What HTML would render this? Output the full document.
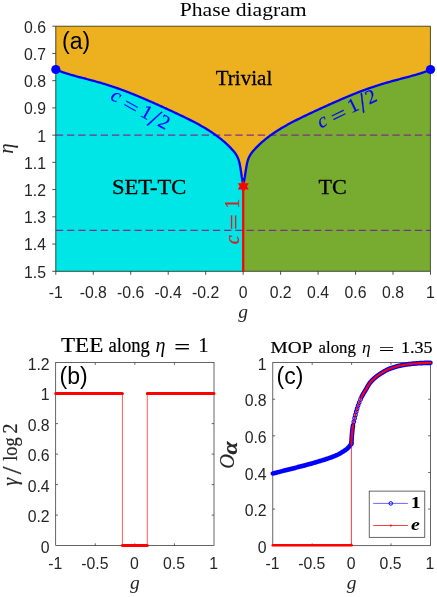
<!DOCTYPE html>
<html><head><meta charset="utf-8"><title>Phase diagram</title>
<style>html,body{margin:0;padding:0;background:#fff}svg{display:block}text{white-space:pre}</style></head><body>
<svg width="437" height="597" viewBox="0 0 437 597">
<rect width="437" height="597" fill="#fff"/>
<rect x="55.8" y="26.2" width="374.7" height="245.10000000000002" fill="#77AC30"/>
<path d="M55.80,69.49 L56.79,69.91 L57.78,70.32 L58.77,70.72 L59.77,71.11 L60.77,71.49 L61.78,71.86 L62.79,72.22 L63.80,72.57 L64.81,72.91 L65.83,73.24 L66.85,73.57 L67.88,73.89 L68.90,74.20 L69.93,74.51 L70.95,74.81 L71.98,75.11 L73.01,75.40 L74.05,75.69 L75.08,75.98 L76.11,76.26 L77.15,76.54 L78.18,76.81 L79.22,77.09 L80.25,77.36 L81.29,77.64 L82.32,77.91 L83.36,78.18 L84.40,78.45 L85.43,78.72 L86.47,78.99 L87.51,79.26 L88.54,79.54 L89.58,79.81 L90.61,80.09 L91.65,80.36 L92.68,80.64 L93.72,80.92 L94.75,81.21 L95.78,81.49 L96.82,81.78 L97.85,82.07 L98.88,82.36 L99.91,82.66 L100.94,82.96 L101.96,83.26 L102.99,83.57 L104.02,83.87 L105.04,84.19 L106.06,84.50 L107.09,84.82 L108.11,85.14 L109.13,85.47 L110.15,85.80 L111.17,86.13 L112.19,86.47 L113.20,86.81 L114.22,87.15 L115.23,87.49 L116.24,87.84 L117.25,88.20 L118.27,88.55 L119.27,88.91 L120.28,89.28 L121.29,89.64 L122.29,90.01 L123.30,90.38 L124.30,90.76 L125.30,91.14 L126.31,91.52 L127.31,91.90 L128.31,92.29 L129.30,92.68 L130.30,93.07 L131.30,93.47 L132.29,93.87 L133.28,94.27 L134.28,94.67 L135.27,95.07 L136.26,95.48 L137.25,95.89 L138.24,96.30 L139.23,96.71 L140.22,97.13 L141.20,97.54 L142.19,97.96 L143.18,98.38 L144.16,98.81 L145.14,99.23 L146.13,99.65 L147.11,100.08 L148.09,100.51 L149.07,100.94 L150.05,101.37 L151.04,101.80 L152.02,102.23 L152.99,102.67 L153.97,103.10 L154.95,103.54 L155.93,103.98 L156.91,104.41 L157.89,104.85 L158.86,105.29 L159.84,105.73 L160.82,106.17 L161.79,106.62 L162.77,107.06 L163.74,107.50 L164.72,107.95 L165.69,108.39 L166.66,108.84 L167.64,109.29 L168.61,109.73 L169.58,110.18 L170.56,110.63 L171.53,111.08 L172.50,111.53 L173.47,111.99 L174.44,112.44 L175.41,112.89 L176.38,113.35 L177.35,113.80 L178.32,114.26 L179.29,114.72 L180.26,115.18 L181.22,115.64 L182.19,116.11 L183.15,116.57 L184.12,117.04 L185.08,117.51 L186.05,117.98 L187.01,118.45 L187.97,118.93 L188.93,119.40 L189.88,119.88 L190.84,120.37 L191.79,120.85 L192.75,121.34 L193.70,121.83 L194.65,122.33 L195.60,122.83 L196.54,123.33 L197.49,123.84 L198.43,124.35 L199.37,124.86 L200.31,125.38 L201.24,125.91 L202.17,126.43 L203.10,126.97 L204.03,127.51 L204.95,128.05 L205.87,128.60 L206.79,129.16 L207.70,129.72 L208.61,130.29 L209.51,130.86 L210.41,131.44 L211.31,132.03 L212.20,132.62 L213.09,133.23 L213.97,133.83 L214.84,134.45 L215.72,135.07 L216.58,135.70 L217.44,136.34 L218.30,136.98 L219.15,137.64 L219.99,138.30 L220.83,138.96 L221.66,139.64 L222.49,140.32 L223.31,141.02 L224.12,141.71 L224.93,142.42 L225.73,143.13 L226.51,143.86 L227.29,144.59 L228.06,145.34 L228.83,146.09 L229.59,146.85 L230.34,147.61 L231.08,148.39 L231.81,149.17 L232.52,149.97 L233.23,150.78 L233.93,151.59 L234.60,152.43 L235.24,153.29 L235.84,154.17 L236.42,155.07 L236.96,156.01 L237.45,156.96 L237.88,157.93 L238.28,158.93 L238.63,159.95 L238.95,160.97 L239.23,162.00 L239.47,163.05 L239.70,164.10 L239.91,165.15 L240.11,166.20 L240.29,167.25 L240.47,168.31 L240.64,169.37 L240.81,170.43 L240.98,171.48 L241.14,172.54 L241.30,173.60 L241.44,174.67 L241.60,175.73 L241.76,176.78 L241.96,177.84 L242.16,178.89 L242.35,179.94 L242.54,181.00 L242.72,182.05 L242.89,183.11 L243.04,184.17 L243.18,185.24 L243.30,186.30 L243.30,271.30 L55.80,271.30Z" fill="#00E6E6"/>
<path d="M55.80,26.20 L55.80,69.49 L56.79,69.91 L57.78,70.32 L58.77,70.72 L59.77,71.11 L60.77,71.49 L61.78,71.86 L62.79,72.22 L63.80,72.57 L64.81,72.91 L65.83,73.24 L66.85,73.57 L67.88,73.89 L68.90,74.20 L69.93,74.51 L70.95,74.81 L71.98,75.11 L73.01,75.40 L74.05,75.69 L75.08,75.98 L76.11,76.26 L77.15,76.54 L78.18,76.81 L79.22,77.09 L80.25,77.36 L81.29,77.64 L82.32,77.91 L83.36,78.18 L84.40,78.45 L85.43,78.72 L86.47,78.99 L87.51,79.26 L88.54,79.54 L89.58,79.81 L90.61,80.09 L91.65,80.36 L92.68,80.64 L93.72,80.92 L94.75,81.21 L95.78,81.49 L96.82,81.78 L97.85,82.07 L98.88,82.36 L99.91,82.66 L100.94,82.96 L101.96,83.26 L102.99,83.57 L104.02,83.87 L105.04,84.19 L106.06,84.50 L107.09,84.82 L108.11,85.14 L109.13,85.47 L110.15,85.80 L111.17,86.13 L112.19,86.47 L113.20,86.81 L114.22,87.15 L115.23,87.49 L116.24,87.84 L117.25,88.20 L118.27,88.55 L119.27,88.91 L120.28,89.28 L121.29,89.64 L122.29,90.01 L123.30,90.38 L124.30,90.76 L125.30,91.14 L126.31,91.52 L127.31,91.90 L128.31,92.29 L129.30,92.68 L130.30,93.07 L131.30,93.47 L132.29,93.87 L133.28,94.27 L134.28,94.67 L135.27,95.07 L136.26,95.48 L137.25,95.89 L138.24,96.30 L139.23,96.71 L140.22,97.13 L141.20,97.54 L142.19,97.96 L143.18,98.38 L144.16,98.81 L145.14,99.23 L146.13,99.65 L147.11,100.08 L148.09,100.51 L149.07,100.94 L150.05,101.37 L151.04,101.80 L152.02,102.23 L152.99,102.67 L153.97,103.10 L154.95,103.54 L155.93,103.98 L156.91,104.41 L157.89,104.85 L158.86,105.29 L159.84,105.73 L160.82,106.17 L161.79,106.62 L162.77,107.06 L163.74,107.50 L164.72,107.95 L165.69,108.39 L166.66,108.84 L167.64,109.29 L168.61,109.73 L169.58,110.18 L170.56,110.63 L171.53,111.08 L172.50,111.53 L173.47,111.99 L174.44,112.44 L175.41,112.89 L176.38,113.35 L177.35,113.80 L178.32,114.26 L179.29,114.72 L180.26,115.18 L181.22,115.64 L182.19,116.11 L183.15,116.57 L184.12,117.04 L185.08,117.51 L186.05,117.98 L187.01,118.45 L187.97,118.93 L188.93,119.40 L189.88,119.88 L190.84,120.37 L191.79,120.85 L192.75,121.34 L193.70,121.83 L194.65,122.33 L195.60,122.83 L196.54,123.33 L197.49,123.84 L198.43,124.35 L199.37,124.86 L200.31,125.38 L201.24,125.91 L202.17,126.43 L203.10,126.97 L204.03,127.51 L204.95,128.05 L205.87,128.60 L206.79,129.16 L207.70,129.72 L208.61,130.29 L209.51,130.86 L210.41,131.44 L211.31,132.03 L212.20,132.62 L213.09,133.23 L213.97,133.83 L214.84,134.45 L215.72,135.07 L216.58,135.70 L217.44,136.34 L218.30,136.98 L219.15,137.64 L219.99,138.30 L220.83,138.96 L221.66,139.64 L222.49,140.32 L223.31,141.02 L224.12,141.71 L224.93,142.42 L225.73,143.13 L226.51,143.86 L227.29,144.59 L228.06,145.34 L228.83,146.09 L229.59,146.85 L230.34,147.61 L231.08,148.39 L231.81,149.17 L232.52,149.97 L233.23,150.78 L233.93,151.59 L234.60,152.43 L235.24,153.29 L235.84,154.17 L236.42,155.07 L236.96,156.01 L237.45,156.96 L237.88,157.93 L238.28,158.93 L238.63,159.95 L238.95,160.97 L239.23,162.00 L239.47,163.05 L239.70,164.10 L239.91,165.15 L240.11,166.20 L240.29,167.25 L240.47,168.31 L240.64,169.37 L240.81,170.43 L240.98,171.48 L241.14,172.54 L241.30,173.60 L241.44,174.67 L241.60,175.73 L241.76,176.78 L241.96,177.84 L242.16,178.89 L242.35,179.94 L242.54,181.00 L242.72,182.05 L242.89,183.11 L243.04,184.17 L243.18,185.24 L243.30,186.30 L243.42,185.24 L243.56,184.17 L243.71,183.11 L243.88,182.05 L244.06,181.00 L244.25,179.94 L244.44,178.89 L244.64,177.84 L244.84,176.78 L245.00,175.73 L245.16,174.67 L245.30,173.60 L245.46,172.54 L245.62,171.48 L245.79,170.43 L245.96,169.37 L246.13,168.31 L246.31,167.25 L246.49,166.20 L246.69,165.15 L246.90,164.10 L247.13,163.05 L247.37,162.00 L247.65,160.97 L247.97,159.95 L248.32,158.93 L248.72,157.93 L249.15,156.96 L249.64,156.01 L250.18,155.07 L250.76,154.17 L251.36,153.29 L252.00,152.43 L252.67,151.59 L253.37,150.78 L254.08,149.97 L254.79,149.17 L255.52,148.39 L256.26,147.61 L257.01,146.85 L257.77,146.09 L258.54,145.34 L259.31,144.59 L260.09,143.86 L260.87,143.13 L261.67,142.42 L262.48,141.71 L263.29,141.02 L264.11,140.32 L264.94,139.64 L265.77,138.96 L266.61,138.30 L267.45,137.64 L268.30,136.98 L269.16,136.34 L270.02,135.70 L270.88,135.07 L271.76,134.45 L272.63,133.83 L273.51,133.23 L274.40,132.62 L275.29,132.03 L276.19,131.44 L277.09,130.86 L277.99,130.29 L278.90,129.72 L279.81,129.16 L280.73,128.60 L281.65,128.05 L282.57,127.51 L283.50,126.97 L284.43,126.43 L285.36,125.91 L286.29,125.38 L287.23,124.86 L288.17,124.35 L289.11,123.84 L290.06,123.33 L291.00,122.83 L291.95,122.33 L292.90,121.83 L293.85,121.34 L294.81,120.85 L295.76,120.37 L296.72,119.88 L297.67,119.40 L298.63,118.93 L299.59,118.45 L300.55,117.98 L301.52,117.51 L302.48,117.04 L303.45,116.57 L304.41,116.11 L305.38,115.64 L306.34,115.18 L307.31,114.72 L308.28,114.26 L309.25,113.80 L310.22,113.35 L311.19,112.89 L312.16,112.44 L313.13,111.99 L314.10,111.53 L315.07,111.08 L316.04,110.63 L317.02,110.18 L317.99,109.73 L318.96,109.29 L319.94,108.84 L320.91,108.39 L321.88,107.95 L322.86,107.50 L323.83,107.06 L324.81,106.62 L325.78,106.17 L326.76,105.73 L327.74,105.29 L328.71,104.85 L329.69,104.41 L330.67,103.98 L331.65,103.54 L332.63,103.10 L333.61,102.67 L334.58,102.23 L335.56,101.80 L336.55,101.37 L337.53,100.94 L338.51,100.51 L339.49,100.08 L340.47,99.65 L341.46,99.23 L342.44,98.81 L343.42,98.38 L344.41,97.96 L345.40,97.54 L346.38,97.13 L347.37,96.71 L348.36,96.30 L349.35,95.89 L350.34,95.48 L351.33,95.07 L352.32,94.67 L353.32,94.27 L354.31,93.87 L355.30,93.47 L356.30,93.07 L357.30,92.68 L358.29,92.29 L359.29,91.90 L360.29,91.52 L361.30,91.14 L362.30,90.76 L363.30,90.38 L364.31,90.01 L365.31,89.64 L366.32,89.28 L367.33,88.91 L368.33,88.55 L369.35,88.20 L370.36,87.84 L371.37,87.49 L372.38,87.15 L373.40,86.81 L374.41,86.47 L375.43,86.13 L376.45,85.80 L377.47,85.47 L378.49,85.14 L379.51,84.82 L380.54,84.50 L381.56,84.19 L382.58,83.87 L383.61,83.57 L384.64,83.26 L385.66,82.96 L386.69,82.66 L387.72,82.36 L388.75,82.07 L389.78,81.78 L390.82,81.49 L391.85,81.21 L392.88,80.92 L393.92,80.64 L394.95,80.36 L395.99,80.09 L397.02,79.81 L398.06,79.54 L399.09,79.26 L400.13,78.99 L401.17,78.72 L402.20,78.45 L403.24,78.18 L404.28,77.91 L405.31,77.64 L406.35,77.36 L407.38,77.09 L408.42,76.81 L409.45,76.54 L410.49,76.26 L411.52,75.98 L412.55,75.69 L413.59,75.40 L414.62,75.11 L415.65,74.81 L416.67,74.51 L417.70,74.20 L418.72,73.89 L419.75,73.57 L420.77,73.24 L421.79,72.91 L422.80,72.57 L423.81,72.22 L424.82,71.86 L425.83,71.49 L426.83,71.11 L427.83,70.72 L428.82,70.32 L429.81,69.91 L430.80,69.49 L430.50,26.20Z" fill="#EDB120"/>
<line x1="55.8" x2="430.5" y1="135.13" y2="135.13" stroke="#7E2F8E" stroke-width="1.3" stroke-dasharray="7.35 3.87"/>
<line x1="55.8" x2="430.5" y1="230.45" y2="230.45" stroke="#7E2F8E" stroke-width="1.3" stroke-dasharray="7.35 3.87"/>
<path d="M55.8,26.2H430.4V271.3" fill="none" stroke="#000" stroke-width="0.7" stroke-opacity="0.85"/>
<path d="M55.8,26.2V271.3H430.5" fill="none" stroke="#262626" stroke-width="0.8"/>
<line x1="52.3" x2="55.8" y1="26.20" y2="26.20" stroke="#262626" stroke-width="0.8"/>
<line x1="52.3" x2="55.8" y1="53.43" y2="53.43" stroke="#262626" stroke-width="0.8"/>
<line x1="52.3" x2="55.8" y1="80.67" y2="80.67" stroke="#262626" stroke-width="0.8"/>
<line x1="52.3" x2="55.8" y1="107.90" y2="107.90" stroke="#262626" stroke-width="0.8"/>
<line x1="52.3" x2="55.8" y1="135.13" y2="135.13" stroke="#262626" stroke-width="0.8"/>
<line x1="52.3" x2="55.8" y1="162.37" y2="162.37" stroke="#262626" stroke-width="0.8"/>
<line x1="52.3" x2="55.8" y1="189.60" y2="189.60" stroke="#262626" stroke-width="0.8"/>
<line x1="52.3" x2="55.8" y1="216.83" y2="216.83" stroke="#262626" stroke-width="0.8"/>
<line x1="52.3" x2="55.8" y1="244.07" y2="244.07" stroke="#262626" stroke-width="0.8"/>
<line x1="52.3" x2="55.8" y1="271.30" y2="271.30" stroke="#262626" stroke-width="0.8"/>
<line x1="55.80" x2="55.80" y1="271.3" y2="274.8" stroke="#262626" stroke-width="0.8"/>
<line x1="93.27" x2="93.27" y1="271.3" y2="274.8" stroke="#262626" stroke-width="0.8"/>
<line x1="130.74" x2="130.74" y1="271.3" y2="274.8" stroke="#262626" stroke-width="0.8"/>
<line x1="168.21" x2="168.21" y1="271.3" y2="274.8" stroke="#262626" stroke-width="0.8"/>
<line x1="205.68" x2="205.68" y1="271.3" y2="274.8" stroke="#262626" stroke-width="0.8"/>
<line x1="243.15" x2="243.15" y1="271.3" y2="274.8" stroke="#262626" stroke-width="0.8"/>
<line x1="280.62" x2="280.62" y1="271.3" y2="274.8" stroke="#262626" stroke-width="0.8"/>
<line x1="318.09" x2="318.09" y1="271.3" y2="274.8" stroke="#262626" stroke-width="0.8"/>
<line x1="355.56" x2="355.56" y1="271.3" y2="274.8" stroke="#262626" stroke-width="0.8"/>
<line x1="393.03" x2="393.03" y1="271.3" y2="274.8" stroke="#262626" stroke-width="0.8"/>
<line x1="430.50" x2="430.50" y1="271.3" y2="274.8" stroke="#262626" stroke-width="0.8"/>
<line x1="243.20000000000002" x2="243.20000000000002" y1="186.3" y2="271.3" stroke="#FF0000" stroke-width="2.25"/>
<path d="M55.80,69.49 L56.79,69.91 L57.78,70.32 L58.77,70.72 L59.77,71.11 L60.77,71.49 L61.78,71.86 L62.79,72.22 L63.80,72.57 L64.81,72.91 L65.83,73.24 L66.85,73.57 L67.88,73.89 L68.90,74.20 L69.93,74.51 L70.95,74.81 L71.98,75.11 L73.01,75.40 L74.05,75.69 L75.08,75.98 L76.11,76.26 L77.15,76.54 L78.18,76.81 L79.22,77.09 L80.25,77.36 L81.29,77.64 L82.32,77.91 L83.36,78.18 L84.40,78.45 L85.43,78.72 L86.47,78.99 L87.51,79.26 L88.54,79.54 L89.58,79.81 L90.61,80.09 L91.65,80.36 L92.68,80.64 L93.72,80.92 L94.75,81.21 L95.78,81.49 L96.82,81.78 L97.85,82.07 L98.88,82.36 L99.91,82.66 L100.94,82.96 L101.96,83.26 L102.99,83.57 L104.02,83.87 L105.04,84.19 L106.06,84.50 L107.09,84.82 L108.11,85.14 L109.13,85.47 L110.15,85.80 L111.17,86.13 L112.19,86.47 L113.20,86.81 L114.22,87.15 L115.23,87.49 L116.24,87.84 L117.25,88.20 L118.27,88.55 L119.27,88.91 L120.28,89.28 L121.29,89.64 L122.29,90.01 L123.30,90.38 L124.30,90.76 L125.30,91.14 L126.31,91.52 L127.31,91.90 L128.31,92.29 L129.30,92.68 L130.30,93.07 L131.30,93.47 L132.29,93.87 L133.28,94.27 L134.28,94.67 L135.27,95.07 L136.26,95.48 L137.25,95.89 L138.24,96.30 L139.23,96.71 L140.22,97.13 L141.20,97.54 L142.19,97.96 L143.18,98.38 L144.16,98.81 L145.14,99.23 L146.13,99.65 L147.11,100.08 L148.09,100.51 L149.07,100.94 L150.05,101.37 L151.04,101.80 L152.02,102.23 L152.99,102.67 L153.97,103.10 L154.95,103.54 L155.93,103.98 L156.91,104.41 L157.89,104.85 L158.86,105.29 L159.84,105.73 L160.82,106.17 L161.79,106.62 L162.77,107.06 L163.74,107.50 L164.72,107.95 L165.69,108.39 L166.66,108.84 L167.64,109.29 L168.61,109.73 L169.58,110.18 L170.56,110.63 L171.53,111.08 L172.50,111.53 L173.47,111.99 L174.44,112.44 L175.41,112.89 L176.38,113.35 L177.35,113.80 L178.32,114.26 L179.29,114.72 L180.26,115.18 L181.22,115.64 L182.19,116.11 L183.15,116.57 L184.12,117.04 L185.08,117.51 L186.05,117.98 L187.01,118.45 L187.97,118.93 L188.93,119.40 L189.88,119.88 L190.84,120.37 L191.79,120.85 L192.75,121.34 L193.70,121.83 L194.65,122.33 L195.60,122.83 L196.54,123.33 L197.49,123.84 L198.43,124.35 L199.37,124.86 L200.31,125.38 L201.24,125.91 L202.17,126.43 L203.10,126.97 L204.03,127.51 L204.95,128.05 L205.87,128.60 L206.79,129.16 L207.70,129.72 L208.61,130.29 L209.51,130.86 L210.41,131.44 L211.31,132.03 L212.20,132.62 L213.09,133.23 L213.97,133.83 L214.84,134.45 L215.72,135.07 L216.58,135.70 L217.44,136.34 L218.30,136.98 L219.15,137.64 L219.99,138.30 L220.83,138.96 L221.66,139.64 L222.49,140.32 L223.31,141.02 L224.12,141.71 L224.93,142.42 L225.73,143.13 L226.51,143.86 L227.29,144.59 L228.06,145.34 L228.83,146.09 L229.59,146.85 L230.34,147.61 L231.08,148.39 L231.81,149.17 L232.52,149.97 L233.23,150.78 L233.93,151.59 L234.60,152.43 L235.24,153.29 L235.84,154.17 L236.42,155.07 L236.96,156.01 L237.45,156.96 L237.88,157.93 L238.28,158.93 L238.63,159.95 L238.95,160.97 L239.23,162.00 L239.47,163.05 L239.70,164.10 L239.91,165.15 L240.11,166.20 L240.29,167.25 L240.47,168.31 L240.64,169.37 L240.81,170.43 L240.98,171.48 L241.14,172.54 L241.30,173.60 L241.44,174.67 L241.60,175.73 L241.76,176.78 L241.96,177.84 L242.16,178.89 L242.35,179.94 L242.54,181.00 L242.72,182.05 L242.89,183.11 L243.04,184.17 L243.18,185.24 L243.30,186.30 L243.42,185.24 L243.56,184.17 L243.71,183.11 L243.88,182.05 L244.06,181.00 L244.25,179.94 L244.44,178.89 L244.64,177.84 L244.84,176.78 L245.00,175.73 L245.16,174.67 L245.30,173.60 L245.46,172.54 L245.62,171.48 L245.79,170.43 L245.96,169.37 L246.13,168.31 L246.31,167.25 L246.49,166.20 L246.69,165.15 L246.90,164.10 L247.13,163.05 L247.37,162.00 L247.65,160.97 L247.97,159.95 L248.32,158.93 L248.72,157.93 L249.15,156.96 L249.64,156.01 L250.18,155.07 L250.76,154.17 L251.36,153.29 L252.00,152.43 L252.67,151.59 L253.37,150.78 L254.08,149.97 L254.79,149.17 L255.52,148.39 L256.26,147.61 L257.01,146.85 L257.77,146.09 L258.54,145.34 L259.31,144.59 L260.09,143.86 L260.87,143.13 L261.67,142.42 L262.48,141.71 L263.29,141.02 L264.11,140.32 L264.94,139.64 L265.77,138.96 L266.61,138.30 L267.45,137.64 L268.30,136.98 L269.16,136.34 L270.02,135.70 L270.88,135.07 L271.76,134.45 L272.63,133.83 L273.51,133.23 L274.40,132.62 L275.29,132.03 L276.19,131.44 L277.09,130.86 L277.99,130.29 L278.90,129.72 L279.81,129.16 L280.73,128.60 L281.65,128.05 L282.57,127.51 L283.50,126.97 L284.43,126.43 L285.36,125.91 L286.29,125.38 L287.23,124.86 L288.17,124.35 L289.11,123.84 L290.06,123.33 L291.00,122.83 L291.95,122.33 L292.90,121.83 L293.85,121.34 L294.81,120.85 L295.76,120.37 L296.72,119.88 L297.67,119.40 L298.63,118.93 L299.59,118.45 L300.55,117.98 L301.52,117.51 L302.48,117.04 L303.45,116.57 L304.41,116.11 L305.38,115.64 L306.34,115.18 L307.31,114.72 L308.28,114.26 L309.25,113.80 L310.22,113.35 L311.19,112.89 L312.16,112.44 L313.13,111.99 L314.10,111.53 L315.07,111.08 L316.04,110.63 L317.02,110.18 L317.99,109.73 L318.96,109.29 L319.94,108.84 L320.91,108.39 L321.88,107.95 L322.86,107.50 L323.83,107.06 L324.81,106.62 L325.78,106.17 L326.76,105.73 L327.74,105.29 L328.71,104.85 L329.69,104.41 L330.67,103.98 L331.65,103.54 L332.63,103.10 L333.61,102.67 L334.58,102.23 L335.56,101.80 L336.55,101.37 L337.53,100.94 L338.51,100.51 L339.49,100.08 L340.47,99.65 L341.46,99.23 L342.44,98.81 L343.42,98.38 L344.41,97.96 L345.40,97.54 L346.38,97.13 L347.37,96.71 L348.36,96.30 L349.35,95.89 L350.34,95.48 L351.33,95.07 L352.32,94.67 L353.32,94.27 L354.31,93.87 L355.30,93.47 L356.30,93.07 L357.30,92.68 L358.29,92.29 L359.29,91.90 L360.29,91.52 L361.30,91.14 L362.30,90.76 L363.30,90.38 L364.31,90.01 L365.31,89.64 L366.32,89.28 L367.33,88.91 L368.33,88.55 L369.35,88.20 L370.36,87.84 L371.37,87.49 L372.38,87.15 L373.40,86.81 L374.41,86.47 L375.43,86.13 L376.45,85.80 L377.47,85.47 L378.49,85.14 L379.51,84.82 L380.54,84.50 L381.56,84.19 L382.58,83.87 L383.61,83.57 L384.64,83.26 L385.66,82.96 L386.69,82.66 L387.72,82.36 L388.75,82.07 L389.78,81.78 L390.82,81.49 L391.85,81.21 L392.88,80.92 L393.92,80.64 L394.95,80.36 L395.99,80.09 L397.02,79.81 L398.06,79.54 L399.09,79.26 L400.13,78.99 L401.17,78.72 L402.20,78.45 L403.24,78.18 L404.28,77.91 L405.31,77.64 L406.35,77.36 L407.38,77.09 L408.42,76.81 L409.45,76.54 L410.49,76.26 L411.52,75.98 L412.55,75.69 L413.59,75.40 L414.62,75.11 L415.65,74.81 L416.67,74.51 L417.70,74.20 L418.72,73.89 L419.75,73.57 L420.77,73.24 L421.79,72.91 L422.80,72.57 L423.81,72.22 L424.82,71.86 L425.83,71.49 L426.83,71.11 L427.83,70.72 L428.82,70.32 L429.81,69.91 L430.80,69.49" fill="none" stroke="#0000FF" stroke-width="2.3" stroke-linejoin="round"/>
<circle cx="55.8" cy="69.49" r="4.6" fill="#0000FF"/>
<circle cx="430.5" cy="69.49" r="4.6" fill="#0000FF"/>
<path d="M243.30,180.00 L245.12,183.15 L248.76,183.15 L246.94,186.30 L248.76,189.45 L245.12,189.45 L243.30,192.60 L241.48,189.45 L237.84,189.45 L239.66,186.30 L237.84,183.15 L241.48,183.15Z" fill="#FF0000"/>
<text x="46" y="32.60" font-family='"Liberation Sans", sans-serif' font-size="15.8" fill="#262626" text-anchor="end">0.6</text>
<text x="46" y="59.83" font-family='"Liberation Sans", sans-serif' font-size="15.8" fill="#262626" text-anchor="end">0.7</text>
<text x="46" y="87.07" font-family='"Liberation Sans", sans-serif' font-size="15.8" fill="#262626" text-anchor="end">0.8</text>
<text x="46" y="114.30" font-family='"Liberation Sans", sans-serif' font-size="15.8" fill="#262626" text-anchor="end">0.9</text>
<text x="46" y="141.53" font-family='"Liberation Sans", sans-serif' font-size="15.8" fill="#262626" text-anchor="end">1</text>
<text x="46" y="168.77" font-family='"Liberation Sans", sans-serif' font-size="15.8" fill="#262626" text-anchor="end">1.1</text>
<text x="46" y="196.00" font-family='"Liberation Sans", sans-serif' font-size="15.8" fill="#262626" text-anchor="end">1.2</text>
<text x="46" y="223.23" font-family='"Liberation Sans", sans-serif' font-size="15.8" fill="#262626" text-anchor="end">1.3</text>
<text x="46" y="250.47" font-family='"Liberation Sans", sans-serif' font-size="15.8" fill="#262626" text-anchor="end">1.4</text>
<text x="46" y="277.70" font-family='"Liberation Sans", sans-serif' font-size="15.8" fill="#262626" text-anchor="end">1.5</text>
<text x="55.80" y="297.9" font-family='"Liberation Sans", sans-serif' font-size="15.8" fill="#262626" text-anchor="middle">-1</text>
<text x="93.27" y="297.9" font-family='"Liberation Sans", sans-serif' font-size="15.8" fill="#262626" text-anchor="middle">-0.8</text>
<text x="130.74" y="297.9" font-family='"Liberation Sans", sans-serif' font-size="15.8" fill="#262626" text-anchor="middle">-0.6</text>
<text x="168.21" y="297.9" font-family='"Liberation Sans", sans-serif' font-size="15.8" fill="#262626" text-anchor="middle">-0.4</text>
<text x="205.68" y="297.9" font-family='"Liberation Sans", sans-serif' font-size="15.8" fill="#262626" text-anchor="middle">-0.2</text>
<text x="243.15" y="297.9" font-family='"Liberation Sans", sans-serif' font-size="15.8" fill="#262626" text-anchor="middle">0</text>
<text x="280.62" y="297.9" font-family='"Liberation Sans", sans-serif' font-size="15.8" fill="#262626" text-anchor="middle">0.2</text>
<text x="318.09" y="297.9" font-family='"Liberation Sans", sans-serif' font-size="15.8" fill="#262626" text-anchor="middle">0.4</text>
<text x="355.56" y="297.9" font-family='"Liberation Sans", sans-serif' font-size="15.8" fill="#262626" text-anchor="middle">0.6</text>
<text x="393.03" y="297.9" font-family='"Liberation Sans", sans-serif' font-size="15.8" fill="#262626" text-anchor="middle">0.8</text>
<text x="430.50" y="297.9" font-family='"Liberation Sans", sans-serif' font-size="15.8" fill="#262626" text-anchor="middle">1</text>
<text x="243.2" y="16.2" font-family='"Liberation Serif", serif' font-size="19" fill="#000" text-anchor="middle" textLength="127" lengthAdjust="spacingAndGlyphs">Phase diagram</text>
<text x="243" y="318.4" font-family='"Liberation Serif", serif' font-size="19.5" font-style="italic" fill="#262626" text-anchor="middle">g</text>
<text transform="translate(12.6,148.5) rotate(-90)" font-family='"Liberation Serif", serif' font-size="21" font-style="italic" fill="#262626" text-anchor="middle">η</text>
<text x="62" y="49.3" font-family='"Liberation Sans", sans-serif' font-size="23" fill="#000">(a)</text>
<text x="244" y="84.9" font-family='"Liberation Serif", serif' font-size="20" fill="#000" text-anchor="middle" textLength="56.5" lengthAdjust="spacingAndGlyphs" stroke="#000" stroke-width="0.3">Trivial</text>
<text x="149.2" y="194.4" font-family='"Liberation Serif", serif' font-size="20" fill="#000" text-anchor="middle" textLength="74.5" lengthAdjust="spacingAndGlyphs" stroke="#000" stroke-width="0.3">SET-TC</text>
<text x="332.7" y="194.4" font-family='"Liberation Serif", serif' font-size="20" fill="#000" text-anchor="middle" textLength="28.3" lengthAdjust="spacingAndGlyphs" stroke="#000" stroke-width="0.3">TC</text>
<g transform="translate(109.6,99.1) rotate(29)" font-family='"Liberation Serif", serif' fill="#0000FF" stroke="#0000FF" stroke-width="0.2"><text x="0" y="0" font-size="20" font-style="italic">c</text><text x="14.219999999999999" y="2.2" font-size="20" textLength="15.6" lengthAdjust="spacingAndGlyphs">=</text><text x="33.839999999999996" y="0" font-size="20">1</text><text x="44.839999999999996" y="4.4" font-size="28.0">/</text><text x="53.839999999999996" y="0" font-size="20">2</text></g>
<g transform="translate(320.8,128.4) rotate(-26)" font-family='"Liberation Serif", serif' fill="#0000FF" stroke="#0000FF" stroke-width="0.2"><text x="0" y="0" font-size="20" font-style="italic">c</text><text x="14.219999999999999" y="2.2" font-size="20" textLength="15.6" lengthAdjust="spacingAndGlyphs">=</text><text x="33.839999999999996" y="0" font-size="20">1</text><text x="44.839999999999996" y="4.4" font-size="28.0">/</text><text x="53.839999999999996" y="0" font-size="20">2</text></g>
<g transform="translate(239,244.2) rotate(-90)" font-family='"Liberation Serif", serif' fill="#D81E1E" stroke="#D81E1E" stroke-width="0.2"><text x="0" y="0" font-size="20" font-style="italic">c</text><text x="14.219999999999999" y="2.2" font-size="20" textLength="15.6" lengthAdjust="spacingAndGlyphs">=</text><text x="35.339999999999996" y="0" font-size="20">1</text></g>
<rect x="55.7" y="362.6" width="158.3" height="183.0" fill="#fff" stroke="#262626" stroke-width="0.7"/>
<path d="M95.27,545.6v-2.3M95.27,362.6v2.3" stroke="#262626" stroke-width="0.7"/>
<path d="M134.85,545.6v-2.3M134.85,362.6v2.3" stroke="#262626" stroke-width="0.7"/>
<path d="M174.43,545.6v-2.3M174.43,362.6v2.3" stroke="#262626" stroke-width="0.7"/>
<path d="M55.7,515.10h2.3M214.0,515.10h-2.3" stroke="#262626" stroke-width="0.7"/>
<path d="M55.7,484.60h2.3M214.0,484.60h-2.3" stroke="#262626" stroke-width="0.7"/>
<path d="M55.7,454.10h2.3M214.0,454.10h-2.3" stroke="#262626" stroke-width="0.7"/>
<path d="M55.7,423.60h2.3M214.0,423.60h-2.3" stroke="#262626" stroke-width="0.7"/>
<path d="M55.7,393.10h2.3M214.0,393.10h-2.3" stroke="#262626" stroke-width="0.7"/>
<path d="M55.7,393.10H122.42V545.60H147.28V393.10H214.0" fill="none" stroke="#FF0000" stroke-width="0.9" stroke-opacity="0.72"/>
<path d="M55.7,393.10H122.42M147.28,393.10H214.0M122.42,545.30H147.28" transform="translate(0,0.3)" fill="none" stroke="#FF0000" stroke-width="3" stroke-linecap="round"/>
<text x="49.6" y="552.70" font-family='"Liberation Sans", sans-serif' font-size="15.8" fill="#262626" text-anchor="end">0</text>
<text x="49.6" y="522.20" font-family='"Liberation Sans", sans-serif' font-size="15.8" fill="#262626" text-anchor="end">0.2</text>
<text x="49.6" y="491.70" font-family='"Liberation Sans", sans-serif' font-size="15.8" fill="#262626" text-anchor="end">0.4</text>
<text x="49.6" y="461.20" font-family='"Liberation Sans", sans-serif' font-size="15.8" fill="#262626" text-anchor="end">0.6</text>
<text x="49.6" y="430.70" font-family='"Liberation Sans", sans-serif' font-size="15.8" fill="#262626" text-anchor="end">0.8</text>
<text x="49.6" y="400.20" font-family='"Liberation Sans", sans-serif' font-size="15.8" fill="#262626" text-anchor="end">1</text>
<text x="49.6" y="369.70" font-family='"Liberation Sans", sans-serif' font-size="15.8" fill="#262626" text-anchor="end">1.2</text>
<text x="55.30" y="568.6" font-family='"Liberation Sans", sans-serif' font-size="15.8" fill="#262626" text-anchor="middle">-1</text>
<text x="94.87" y="568.6" font-family='"Liberation Sans", sans-serif' font-size="15.8" fill="#262626" text-anchor="middle">-0.5</text>
<text x="134.45" y="568.6" font-family='"Liberation Sans", sans-serif' font-size="15.8" fill="#262626" text-anchor="middle">0</text>
<text x="174.03" y="568.6" font-family='"Liberation Sans", sans-serif' font-size="15.8" fill="#262626" text-anchor="middle">0.5</text>
<text x="213.60" y="568.6" font-family='"Liberation Sans", sans-serif' font-size="15.8" fill="#262626" text-anchor="middle">1</text>
<text x="134.85" y="589.4" font-family='"Liberation Serif", serif' font-size="19.5" font-style="italic" fill="#262626" text-anchor="middle">g</text>
<text x="59.5" y="383.5" font-family='"Liberation Sans", sans-serif' font-size="23" fill="#000">(b)</text>
<g transform="translate(0,352.4) rotate(0)" font-family='"Liberation Serif", serif' fill="#000" stroke="#000" stroke-width="0.2"><text x="61.0" y="0" font-size="20" textLength="42.3" lengthAdjust="spacingAndGlyphs">TEE</text><text x="108.6" y="0" font-size="20" textLength="41.3" lengthAdjust="spacingAndGlyphs">along</text></g>
<text x="155.5" y="352.4" font-family='"Liberation Serif", serif' font-size="20" font-style="italic" fill="#000">η</text>
<g transform="translate(0,352.4) rotate(0)" font-family='"Liberation Serif", serif' fill="#000" stroke="#000" stroke-width="0.2"><text x="174.2" y="2" font-size="20" textLength="16" lengthAdjust="spacingAndGlyphs">=</text><text x="198.5" y="0" font-size="20">1</text></g>
<g transform="translate(16.8,485.8) rotate(-90)" font-family='"Liberation Serif", serif' fill="#262626" stroke="#262626" stroke-width="0.2"><text x="0" y="0" font-size="20" font-style="italic">γ</text><text x="11.6" y="4.4" font-size="28">/</text><text x="25.0" y="0" font-size="20" textLength="23.5" lengthAdjust="spacingAndGlyphs">log</text><text x="52.3" y="0" font-size="20">2</text></g>
<rect x="272.8" y="362.6" width="157.59999999999997" height="183.10000000000002" fill="#fff" stroke="#262626" stroke-width="0.7"/>
<path d="M312.20,545.7v-2.3M312.20,362.6v2.3" stroke="#262626" stroke-width="0.7"/>
<path d="M351.60,545.7v-2.3M351.60,362.6v2.3" stroke="#262626" stroke-width="0.7"/>
<path d="M391.00,545.7v-2.3M391.00,362.6v2.3" stroke="#262626" stroke-width="0.7"/>
<path d="M272.8,509.08h2.3M430.4,509.08h-2.3" stroke="#262626" stroke-width="0.7"/>
<path d="M272.8,472.46h2.3M430.4,472.46h-2.3" stroke="#262626" stroke-width="0.7"/>
<path d="M272.8,435.84h2.3M430.4,435.84h-2.3" stroke="#262626" stroke-width="0.7"/>
<path d="M272.8,399.22h2.3M430.4,399.22h-2.3" stroke="#262626" stroke-width="0.7"/>
<path d="M272.80,473.40 L273.86,473.15 L274.92,472.90 L275.98,472.65 L277.04,472.40 L278.09,472.14 L279.15,471.89 L280.21,471.63 L281.27,471.37 L282.32,471.11 L283.38,470.85 L284.44,470.59 L285.49,470.33 L286.55,470.07 L287.60,469.80 L288.66,469.53 L289.71,469.27 L290.77,469.00 L291.82,468.73 L292.87,468.46 L293.93,468.19 L294.98,467.91 L296.04,467.64 L297.09,467.37 L298.14,467.09 L299.19,466.81 L300.25,466.54 L301.30,466.26 L302.35,465.98 L303.40,465.70 L304.45,465.42 L305.51,465.15 L306.56,464.87 L307.61,464.58 L308.66,464.30 L309.71,464.01 L310.76,463.73 L311.81,463.43 L312.86,463.14 L313.90,462.84 L314.95,462.54 L315.99,462.23 L317.03,461.92 L318.07,461.61 L319.12,461.30 L320.16,460.98 L321.20,460.66 L322.24,460.34 L323.28,460.02 L324.32,459.69 L325.36,459.35 L326.39,459.01 L327.42,458.66 L328.45,458.31 L329.48,457.95 L330.50,457.59 L331.52,457.22 L332.54,456.83 L333.56,456.44 L334.57,456.03 L335.57,455.61 L336.57,455.17 L337.56,454.72 L338.53,454.23 L339.48,453.72 L340.43,453.18 L341.37,452.62 L342.29,452.05 L343.21,451.46 L344.13,450.88 L345.05,450.27 L345.94,449.64 L346.79,448.98 L347.60,448.26 L348.40,447.50 L349.15,446.69 L349.82,445.85 L350.41,444.96 L350.94,444.00 L351.40,443.00" fill="none" stroke="#0000FF" stroke-width="4.6" stroke-linecap="round" stroke-linejoin="round"/>
<path d="M351.40,443.80 L351.46,442.12 L351.55,440.44 L351.64,438.76 L351.75,437.09 L351.88,435.41 L352.01,433.74 L352.17,432.07 L352.35,430.40 L352.55,428.73 L352.77,427.07 L353.00,425.40" fill="none" stroke="#0000FF" stroke-width="4.6" stroke-linecap="round" stroke-linejoin="round"/>
<path d="M361.60,397.00 L361.96,396.25 L362.33,395.51 L362.72,394.78 L363.13,394.05 L363.55,393.34 L363.98,392.63 L364.41,391.92 L364.85,391.22 L365.29,390.51 L365.72,389.80 L366.14,389.08 L366.56,388.35 L366.97,387.61 L367.38,386.88 L367.79,386.15 L368.21,385.42 L368.64,384.71 L369.09,384.02 L369.55,383.35 L370.04,382.70 L370.55,382.08 L371.09,381.47 L371.64,380.86 L372.22,380.27 L372.82,379.68 L373.43,379.11 L374.06,378.55 L374.70,377.99 L375.35,377.45 L376.00,376.92 L376.67,376.40 L377.34,375.90 L378.01,375.40 L378.69,374.93 L379.36,374.46 L380.04,374.00 L380.72,373.55 L381.42,373.09 L382.13,372.65 L382.84,372.20 L383.56,371.77 L384.29,371.35 L385.03,370.94 L385.77,370.54 L386.51,370.15 L387.26,369.78 L388.02,369.43 L388.78,369.09 L389.54,368.78 L390.30,368.48 L391.07,368.21 L391.84,367.94 L392.62,367.69 L393.40,367.43 L394.19,367.19 L394.99,366.95 L395.79,366.72 L396.59,366.49 L397.40,366.28 L398.21,366.07 L399.03,365.87 L399.84,365.68 L400.66,365.50 L401.48,365.32 L402.30,365.16 L403.12,365.00 L403.94,364.86 L404.76,364.73 L405.58,364.60 L406.39,364.49 L407.21,364.37 L408.03,364.27 L408.85,364.16 L409.68,364.06 L410.50,363.96 L411.33,363.87 L412.16,363.78 L412.98,363.69 L413.81,363.61 L414.64,363.54 L415.47,363.47 L416.30,363.40 L417.13,363.34 L417.96,363.28 L418.79,363.23 L419.62,363.19 L420.44,363.15 L421.27,363.10 L422.10,363.06 L422.93,363.02 L423.76,362.99 L424.59,362.95 L425.42,362.92 L426.25,362.89 L427.08,362.86 L427.91,362.84 L428.74,362.82 L429.57,362.81 L430.40,362.80" fill="none" stroke="#0000FF" stroke-width="4.7" stroke-linecap="round" stroke-linejoin="round"/>
<path d="M353.00,425.40 L353.80,421.80 L354.60,418.20 L355.40,414.90 L356.20,411.70 L357.10,408.70 L358.10,405.60 L359.20,402.60 L360.50,399.40 L361.60,397.00" fill="none" stroke="#0000FF" stroke-width="0.9" stroke-opacity="0.7"/>
<circle cx="353.8" cy="421.8" r="1.85" fill="#fff" fill-opacity="0.5" stroke="#0000FF" stroke-width="1.1"/>
<circle cx="354.6" cy="418.2" r="1.85" fill="#fff" fill-opacity="0.5" stroke="#0000FF" stroke-width="1.1"/>
<circle cx="355.4" cy="414.9" r="1.85" fill="#fff" fill-opacity="0.5" stroke="#0000FF" stroke-width="1.1"/>
<circle cx="356.2" cy="411.7" r="1.85" fill="#fff" fill-opacity="0.5" stroke="#0000FF" stroke-width="1.1"/>
<circle cx="357.1" cy="408.7" r="1.85" fill="#fff" fill-opacity="0.5" stroke="#0000FF" stroke-width="1.1"/>
<circle cx="358.1" cy="405.6" r="1.85" fill="#fff" fill-opacity="0.5" stroke="#0000FF" stroke-width="1.1"/>
<circle cx="359.2" cy="402.6" r="1.85" fill="#fff" fill-opacity="0.5" stroke="#0000FF" stroke-width="1.1"/>
<circle cx="360.5" cy="399.4" r="1.85" fill="#fff" fill-opacity="0.5" stroke="#0000FF" stroke-width="1.1"/>
<path d="M272.8,545.3000000000001H351.6" stroke="#FF0000" stroke-width="2.6" stroke-linecap="round" fill="none"/>
<path d="M351.40000000000003,545.7V444" stroke="#FF0000" stroke-width="0.9" stroke-opacity="0.85" fill="none"/>
<path d="M351.40,443.80 L351.46,442.12 L351.55,440.44 L351.64,438.76 L351.75,437.09 L351.88,435.41 L352.01,433.74 L352.17,432.07 L352.35,430.40 L352.55,428.73 L352.77,427.07 L353.00,425.40" fill="none" stroke="#FF0000" stroke-width="2.2" stroke-linecap="round" stroke-linejoin="round"/>
<path d="M361.60,397.00 L361.96,396.25 L362.33,395.51 L362.72,394.78 L363.13,394.05 L363.55,393.34 L363.98,392.63 L364.41,391.92 L364.85,391.22 L365.29,390.51 L365.72,389.80 L366.14,389.08 L366.56,388.35 L366.97,387.61 L367.38,386.88 L367.79,386.15 L368.21,385.42 L368.64,384.71 L369.09,384.02 L369.55,383.35 L370.04,382.70 L370.55,382.08 L371.09,381.47 L371.64,380.86 L372.22,380.27 L372.82,379.68 L373.43,379.11 L374.06,378.55 L374.70,377.99 L375.35,377.45 L376.00,376.92 L376.67,376.40 L377.34,375.90 L378.01,375.40 L378.69,374.93 L379.36,374.46 L380.04,374.00 L380.72,373.55 L381.42,373.09 L382.13,372.65 L382.84,372.20 L383.56,371.77 L384.29,371.35 L385.03,370.94 L385.77,370.54 L386.51,370.15 L387.26,369.78 L388.02,369.43 L388.78,369.09 L389.54,368.78 L390.30,368.48 L391.07,368.21 L391.84,367.94 L392.62,367.69 L393.40,367.43 L394.19,367.19 L394.99,366.95 L395.79,366.72 L396.59,366.49 L397.40,366.28 L398.21,366.07 L399.03,365.87 L399.84,365.68 L400.66,365.50 L401.48,365.32 L402.30,365.16 L403.12,365.00 L403.94,364.86 L404.76,364.73 L405.58,364.60 L406.39,364.49 L407.21,364.37 L408.03,364.27 L408.85,364.16 L409.68,364.06 L410.50,363.96 L411.33,363.87 L412.16,363.78 L412.98,363.69 L413.81,363.61 L414.64,363.54 L415.47,363.47 L416.30,363.40 L417.13,363.34 L417.96,363.28 L418.79,363.23 L419.62,363.19 L420.44,363.15 L421.27,363.10 L422.10,363.06 L422.93,363.02 L423.76,362.99 L424.59,362.95 L425.42,362.92 L426.25,362.89 L427.08,362.86 L427.91,362.84 L428.74,362.82 L429.57,362.81 L430.40,362.80" fill="none" stroke="#FF0000" stroke-width="2.2" stroke-linecap="round" stroke-linejoin="round"/>
<path d="M353.00,425.40 L353.80,421.80 L354.60,418.20 L355.40,414.90 L356.20,411.70 L357.10,408.70 L358.10,405.60 L359.20,402.60 L360.50,399.40 L361.60,397.00" fill="none" stroke="#FF0000" stroke-width="0.9" stroke-opacity="0.85"/>
<circle cx="353.8" cy="421.8" r="1.05" fill="#FF0000"/>
<circle cx="354.6" cy="418.2" r="1.05" fill="#FF0000"/>
<circle cx="355.4" cy="414.9" r="1.05" fill="#FF0000"/>
<circle cx="356.2" cy="411.7" r="1.05" fill="#FF0000"/>
<circle cx="357.1" cy="408.7" r="1.05" fill="#FF0000"/>
<circle cx="358.1" cy="405.6" r="1.05" fill="#FF0000"/>
<circle cx="359.2" cy="402.6" r="1.05" fill="#FF0000"/>
<circle cx="360.5" cy="399.4" r="1.05" fill="#FF0000"/>
<text x="266.6" y="552.80" font-family='"Liberation Sans", sans-serif' font-size="15.8" fill="#262626" text-anchor="end">0</text>
<text x="266.6" y="516.18" font-family='"Liberation Sans", sans-serif' font-size="15.8" fill="#262626" text-anchor="end">0.2</text>
<text x="266.6" y="479.56" font-family='"Liberation Sans", sans-serif' font-size="15.8" fill="#262626" text-anchor="end">0.4</text>
<text x="266.6" y="442.94" font-family='"Liberation Sans", sans-serif' font-size="15.8" fill="#262626" text-anchor="end">0.6</text>
<text x="266.6" y="406.32" font-family='"Liberation Sans", sans-serif' font-size="15.8" fill="#262626" text-anchor="end">0.8</text>
<text x="266.6" y="369.70" font-family='"Liberation Sans", sans-serif' font-size="15.8" fill="#262626" text-anchor="end">1</text>
<text x="272.40" y="568.6" font-family='"Liberation Sans", sans-serif' font-size="15.8" fill="#262626" text-anchor="middle">-1</text>
<text x="311.80" y="568.6" font-family='"Liberation Sans", sans-serif' font-size="15.8" fill="#262626" text-anchor="middle">-0.5</text>
<text x="351.20" y="568.6" font-family='"Liberation Sans", sans-serif' font-size="15.8" fill="#262626" text-anchor="middle">0</text>
<text x="390.60" y="568.6" font-family='"Liberation Sans", sans-serif' font-size="15.8" fill="#262626" text-anchor="middle">0.5</text>
<text x="430.00" y="568.6" font-family='"Liberation Sans", sans-serif' font-size="15.8" fill="#262626" text-anchor="middle">1</text>
<text x="351.6" y="589.4" font-family='"Liberation Serif", serif' font-size="19.5" font-style="italic" fill="#262626" text-anchor="middle">g</text>
<text x="276.5" y="383.5" font-family='"Liberation Sans", sans-serif' font-size="23" fill="#000">(c)</text>
<g transform="translate(0,352.8) rotate(0)" font-family='"Liberation Serif", serif' fill="#000" stroke="#000" stroke-width="0.2"><text x="270.6" y="0" font-size="17.5" textLength="41.8" lengthAdjust="spacingAndGlyphs">MOP</text><text x="318.6" y="0" font-size="17.5" textLength="37.2" lengthAdjust="spacingAndGlyphs">along</text></g>
<text x="362" y="352.8" font-family='"Liberation Serif", serif' font-size="17.5" font-style="italic" fill="#000">η</text>
<g transform="translate(0,352.8) rotate(0)" font-family='"Liberation Serif", serif' fill="#000" stroke="#000" stroke-width="0.2"><text x="378.8" y="1.8" font-size="17.5" textLength="15.5" lengthAdjust="spacingAndGlyphs">=</text><text x="401" y="0" font-size="17.5" textLength="31.5" lengthAdjust="spacingAndGlyphs">1.35</text></g>
<g transform="translate(234.2,468) rotate(-90)" font-family='"Liberation Serif", serif' fill="#262626" stroke="#262626" stroke-width="0.2"><text x="-0.7" y="0" font-size="20.3" font-style="italic">O</text><text x="13.6" y="2.9" font-size="20" font-style="italic" font-weight="bold" textLength="13" lengthAdjust="spacingAndGlyphs">α</text></g>
<rect x="369.2" y="491.1" width="55.6" height="46.2" fill="#fff" stroke="#262626" stroke-width="0.7"/>
<line x1="373.2" x2="407.9" y1="503.4" y2="503.4" stroke="#0000FF" stroke-width="0.8" stroke-opacity="0.75"/>
<circle cx="390.8" cy="503.4" r="1.8" fill="none" stroke="#0000FF" stroke-width="1"/>
<line x1="373.2" x2="407.9" y1="525.5" y2="525.5" stroke="#FF0000" stroke-width="0.9" stroke-opacity="0.85"/>
<circle cx="390.8" cy="525.5" r="1.1" fill="#FF0000"/>
<text x="410.8" y="508.3" font-family='"Liberation Serif", serif' font-size="17" font-weight="bold" fill="#000" textLength="10" lengthAdjust="spacingAndGlyphs">1</text>
<text x="411" y="529.6" font-family='"Liberation Serif", serif' font-size="16.5" font-weight="bold" font-style="italic" fill="#000" textLength="8.8" lengthAdjust="spacingAndGlyphs">e</text>
</svg></body></html>
